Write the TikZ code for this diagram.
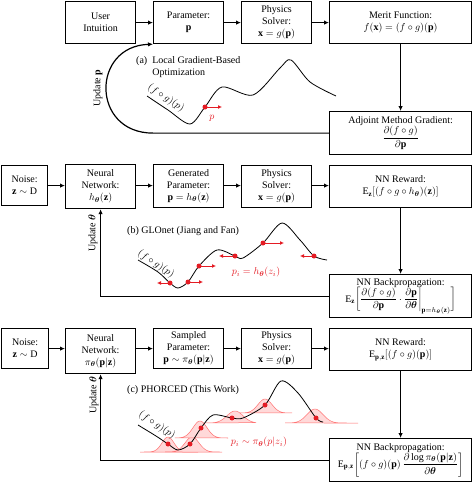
\documentclass[tikz,border=0pt]{standalone}
\usepackage{amsmath,amssymb}
\usepackage{fontspec}
\setmainfont{Liberation Serif}
\usetikzlibrary{arrows.meta,calc}

\definecolor{ptred}{RGB}{228,28,36}
\newcommand{\vp}{\mathbf{p}}
\newcommand{\vz}{\mathbf{z}}
\newcommand{\vx}{\mathbf{x}}
\newcommand{\vth}{\boldsymbol{\theta}}

\tikzset{
  blk/.style={draw, line width=1.2pt, align=center, anchor=north west, inner sep=1pt},
  flow/.style={line width=1.2pt, -{Latex[length=5pt,width=4.5pt]}},
  samp/.style={ptred, line width=1pt, -{Latex[length=4pt,width=4pt]}},
  gauss/.style={draw=red!55, fill=red!15, line width=0.5pt},
  dot/.style={fill=ptred},
}

\begin{document}
\begin{tikzpicture}[x=1pt,y=-1pt]
\useasboundingbox (0,0) rectangle (474,482);
%\draw[step=10,gray,very thin] (0,0) grid (474,482); %background grid

%%%%% (a) local gradient-based optimization
\node[blk, minimum width=70pt, minimum height=42pt] (userB)  at (65,1)  {User\\Intuition};
\node[blk, minimum width=70pt, minimum height=42pt] (paramB) at (153,1) {Parameter:\\$\vp$};
\node[blk, minimum width=70pt, minimum height=42pt] (solveA) at (241,1) {Physics\\Solver:\\$\vx=g(\vp)$};
\node[blk, minimum width=142pt, minimum height=42pt] (meritB) at (329,1) {Merit Function:\\$f(\vx)=(f\circ g)(\vp)$};
\node[blk, minimum width=142pt, minimum height=43pt] (adjB) at (329,111) {Adjoint Method Gradient:\\[-1pt]$\dfrac{\partial(f\circ g)}{\partial\vp}$};

\draw[flow] (userB.east) -- (userB.east -| paramB.west);
\draw[flow] (paramB.east) -- (paramB.east -| solveA.west);
\draw[flow] (solveA.east) -- (solveA.east -| meritB.west);
\draw[flow] (meritB.south) -- (adjB.north);
\draw[flow] (adjB.west) -- (adjB.west -| paramB.south west) .. controls +(-62,0) and +(-62,2) .. (paramB.south west);

\node[rotate=90] (updA) at (98,88) {Update $\vp$};
\node[anchor=north west, align=left, inner sep=0pt] (capA) at (136,56) {(a)\hspace{5pt}Local Gradient-Based\\\phantom{(a)\hspace{5pt}}Optimization};

\draw[line width=0.8pt] plot[smooth] coordinates {(147,96) (168,110) (190,124) (205,107) (222,87) (253,95) (280,68) (291,60) (310,82) (336,96)};
\node[rotate=-33] (fgA) at (166,98) {$(f\circ g)(p)$};
\draw[samp] (205,107) -- (222,107);
\fill[dot] (205,107) circle (2.5pt);
\node[text=ptred] (pA) at (212,118) {$p$};

%%%%% (b) GLOnet
\node[blk, minimum width=46pt, minimum height=40pt] (noiseB) at (1,165) {Noise:\\$\vz\sim\mathrm{D}$};
\node[blk, minimum width=70pt, minimum height=44pt] (nnB)    at (65,164) {Neural\\Network:\\$h_{\vth}(\vz)$};
\node[blk, minimum width=70pt, minimum height=43pt] (genB)   at (153,164) {Generated\\Parameter:\\$\vp=h_{\vth}(\vz)$};
\node[blk, minimum width=70pt, minimum height=42pt] (solveB) at (241,165) {Physics\\Solver:\\$\vx=g(\vp)$};
\node[blk, minimum width=142pt, minimum height=42pt] (rewB)  at (329,165) {NN Reward:\\$\mathrm{E}_{\vz}[(f\circ g\circ h_{\vth})(\vz)]$};
\node[blk, minimum width=142pt, minimum height=43pt] (bpB)   at (329,274) {NN Backpropagation:\\[-1pt]$\mathrm{E}_{\vz}\biggl[\dfrac{\partial(f\circ g)}{\partial\vp}\cdot\dfrac{\partial\vp}{\partial\vth}\bigg|_{\vp=h_{\vth}(\vz)}\biggr]$};

\draw[flow] (noiseB.east) -- (noiseB.east -| nnB.west);
\draw[flow] (noiseB.east -| nnB.east) -- (noiseB.east -| genB.west);
\draw[flow] (noiseB.east -| genB.east) -- (noiseB.east -| solveB.west);
\draw[flow] (noiseB.east -| solveB.east) -- (noiseB.east -| rewB.west);
\draw[flow] (rewB.south) -- (bpB.north);
\draw[flow] (bpB.west) -| (nnB.south);

\node[rotate=90] (updB) at (93,233) {Update $\vth$};
\node[anchor=west, inner sep=0pt] (capB) at (127,231) {(b) GLOnet (Jiang and Fan)};

\draw[line width=0.8pt] plot[smooth] coordinates {(138,260) (158,272) (170,283) (178,288) (188,282) (199,266) (217,250) (235,256) (243,258) (263,243) (282,223) (300,240) (314,256) (327,260)};
\node[rotate=-33] (fgB) at (156,264) {$(f\circ g)(p)$};
\foreach \px/\py/\dx in {170/283/-13, 188/282/15, 199/266/17, 235/256/-16, 263/243/21, 314/256/-14}{
  \draw[samp] (\px,\py) -- ++(\dx,0);
  \fill[dot] (\px,\py) circle (2.5pt);
}
\node[text=ptred] (pB) at (256,272) {$p_i=h_{\vth}(z_i)$};

%%%%% (c) PHORCED
\node[blk, minimum width=47pt, minimum height=40pt] (noiseC) at (1,328) {Noise:\\$\vz\sim\mathrm{D}$};
\node[blk, minimum width=70pt, minimum height=45pt] (nnC)    at (65,328) {Neural\\Network:\\$\pi_{\vth}(\vp|\vz)$};
\node[blk, minimum width=70pt, minimum height=40pt] (sampC)  at (153,328) {Sampled\\Parameter:\\$\vp\sim\pi_{\vth}(\vp|\vz)$};
\node[blk, minimum width=70pt, minimum height=40pt] (solveC) at (241,328) {Physics\\Solver:\\$\vx=g(\vp)$};
\node[blk, minimum width=142pt, minimum height=42pt] (rewC)  at (329,328) {NN Reward:\\$\mathrm{E}_{\vp,\vz}[(f\circ g)(\vp)]$};
\node[blk, minimum width=142pt, minimum height=43pt] (bpC)   at (329,438) {NN Backpropagation:\\[-1pt]$\mathrm{E}_{\vp,\vz}\biggl[(f\circ g)(\vp)\,\dfrac{\partial\log\pi_{\vth}(\vp|\vz)}{\partial\vth}\biggr]$};

\draw[flow] (noiseC.east) -- (noiseC.east -| nnC.west);
\draw[flow] (noiseC.east -| nnC.east) -- (noiseC.east -| sampC.west);
\draw[flow] (sampC.east) -- (sampC.east -| solveC.west);
\draw[flow] (solveC.east) -- (solveC.east -| rewC.west);
\draw[flow] (rewC.south) -- (bpC.north);
\draw[flow] (bpC.west) -| (nnC.south);

\node[rotate=90] (updC) at (94,395) {Update $\vth$};
\node[anchor=west, inner sep=0pt] (capC) at (127,390) {(c) PHORCED (This Work)};

% sampling distributions
\foreach \m/\b/\A/\s/\lo/\hi in {168/452/15/6/140/198, 192/452/15/7/165/222, 200/438/17/7/175/228, 235/423/12/8/205/256, 265/413/14/7/240/292, 315/423/14/8/285/358}{
  \draw[gauss] plot[variable=\t, domain=\lo:\hi, samples=50, smooth] ({\t},{\b-\A*exp(-((\t-\m)^2)/(2*\s*\s))}) -- cycle;
}
\draw[line width=0.8pt] plot[smooth] coordinates {(138,425) (156,436) (168,444) (178,450) (190,444) (201,428) (213,415) (232,418) (243,418) (265,405) (281,381) (298,393) (316,418) (323,422)};
\node[rotate=-33] (fgC) at (157,425) {$(f\circ g)(p)$};
\foreach \px/\py in {168/444, 190/444, 201/428, 232/418, 265/405, 316/418}{
  \fill[dot] (\px,\py) circle (2.5pt);
}
\node[text=ptred] (pC) at (259,442) {$p_i\sim\pi_{\vth}(p|z_i)$};

\end{tikzpicture}
\end{document}
